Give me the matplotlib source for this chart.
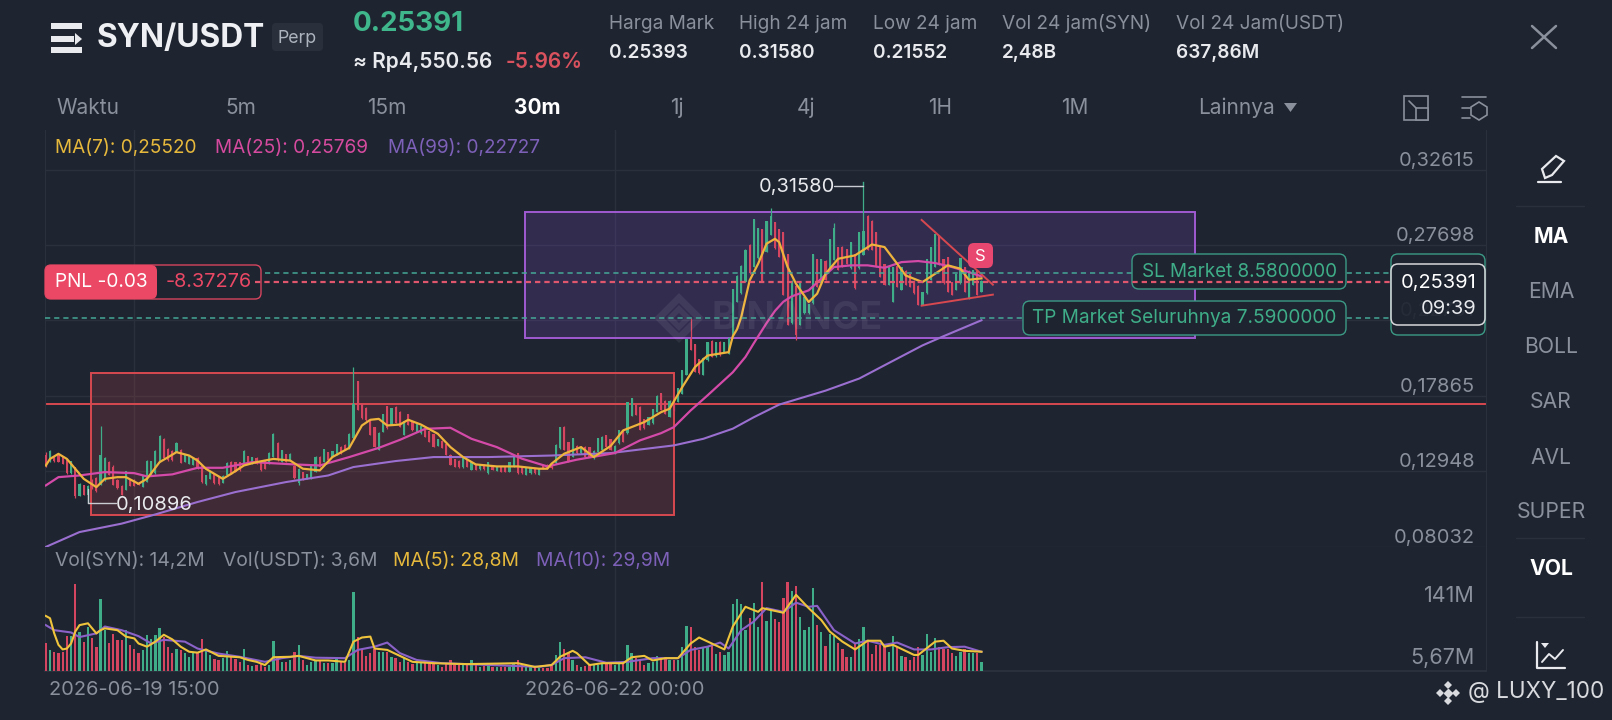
import matplotlib
matplotlib.use("Agg")
import matplotlib.pyplot as plt
from matplotlib.patches import FancyBboxPatch, Rectangle, Polygon

plt.rcParams['font.family'] = ['Inter', 'DejaVu Sans']

# ---------- candles (30 min) ----------
opens = [.1400,.1360,.1395,.1405,.1395,.1365,.1285,.1320,.1130,.1205,
 .1140,.1240,.1250,.1205,.1240,.1355,.1325,.1240,.1200,.1175,
 .1240,.1240,.1220,.1195,.1225,.1270,.1280,.1360,.1505,.1440,
 .1425,.1420,.1435,.1355,.1345,.1335,.1382,.1330,.1210,.1247,
 .1275,.1255,.1218,.1268,.1356,.1352,.1352,.1345,.1395,.1345,
 .1384,.1352,.1362,.1345,.1390,.1480,.1356,.1405,.1366,.1330,
 .1215,.1287,.1248,.1248,.1289,.1388,.1356,.1417,.1388,.1400,
 .1454,.1467,.1443,.1510,.1880,.1732,.1710,.1628,.1580,.1432,
 .1551,.1720,.1595,.1714,.1684,.1530,.1666,.1613,.1551,.1541,
 .1569,.1558,.1537,.1458,.1493,.1472,.1402,.1374,.1363,.1319,
 .1374,.1302,.1341,.1306,.1337,.1280,.1330,.1295,.1324,.1324,
 .1291,.1324,.1411,.1320,.1269,.1280,.1315,.1269,.1333,.1338,
 .1342,.1346,.1443,.1585,.1483,.1389,.1461,.1411,.1455,.1450,
 .1378,.1422,.1433,.1530,.1504,.1411,.1476,.1554,.1541,.1652,
 .1728,.1715,.1635,.1595,.1606,.1682,.1802,.1754,.1649,.1750,
 .1747,.1801,.1921,.2157,.2123,.2025,.1921,.2018,.2145,.2044,
 .2140,.2073,.2062,.2172,.2400,.2454,.2530,.2771,.2628,.2682,
 .2873,.2725,.2834,.2917,.2873,.2852,.2711,.2259,.2504,.2248,
 .2324,.2324,.2389,.2678,.2519,.2667,.2606,.2671,.2754,.2758,
 .2743,.2617,.2711,.2617,.2704,.2960,.2928,.2852,.2765,.2645,
 .2508,.2400,.2635,.2476,.2602,.2580,.2537,.2504,.2378,.2454,
 .2541,.2628,.2830,.2678,.2689,.2526,.2476,.2519,.2624,.2422,
 .2508,.2602,.2465]
closes = [.1330,.1425,.1360,.1358,.1345,.1285,.1360,.1135,.1210,.1140,
 .1200,.1185,.1165,.1400,.1380,.1270,.1205,.1185,.1140,.1295,
 .1200,.1200,.1205,.1262,.1360,.1360,.1425,.1525,.1378,.1366,
 .1366,.1480,.1350,.1405,.1395,.1385,.1312,.1222,.1268,.1297,
 .1215,.1210,.1265,.1350,.1280,.1290,.1300,.1425,.1355,.1385,
 .1345,.1300,.1312,.1415,.1535,.1366,.1430,.1355,.1410,.1248,
 .1310,.1238,.1276,.1335,.1388,.1324,.1438,.1371,.1424,.1470,
 .1410,.1430,.1540,.1730,.1695,.1640,.1627,.1530,.1455,.1545,
 .1665,.1575,.1705,.1610,.1585,.1622,.1595,.1562,.1602,.1591,
 .1519,.1486,.1454,.1504,.1449,.1400,.1334,.1324,.1319,.1385,
 .1324,.1352,.1302,.1337,.1306,.1352,.1302,.1324,.1291,.1291,
 .1352,.1385,.1280,.1280,.1320,.1315,.1280,.1315,.1313,.1313,
 .1313,.1468,.1580,.1433,.1357,.1511,.1411,.1450,.1389,.1389,
 .1429,.1511,.1520,.1454,.1433,.1461,.1563,.1487,.1743,.1769,
 .1660,.1563,.1574,.1645,.1700,.1787,.1697,.1667,.1754,.1690,
 .1836,.1954,.2155,.2088,.1942,.1932,.2036,.2134,.2040,.2134,
 .2051,.2134,.2166,.2483,.2569,.2635,.2737,.2584,.2938,.2880,
 .2530,.2923,.2960,.2747,.2693,.2443,.2248,.2537,.2180,.2526,
 .2428,.2385,.2711,.2498,.2678,.2541,.2808,.2880,.2606,.2628,
 .2649,.2786,.2487,.2852,.2860,.2736,.2736,.2628,.2563,.2508,
 .2635,.2624,.2498,.2624,.2508,.2498,.2454,.2378,.2461,.2678,
 .2754,.2841,.2639,.2519,.2465,.2443,.2580,.2685,.2465,.2602,
 .2606,.2443,.2537]
highs = [.1419,.1430,.1397,.1408,.1397,.1368,.1364,.1321,.1216,.1208,
 .1202,.1245,.1256,.1592,.1386,.1360,.1332,.1245,.1202,.1299,
 .1245,.1245,.1223,.1267,.1368,.1364,.1434,.1534,.1512,.1445,
 .1430,.1484,.1440,.1408,.1397,.1386,.1386,.1332,.1272,.1299,
 .1278,.1256,.1267,.1354,.1360,.1354,.1354,.1430,.1397,.1386,
 .1386,.1354,.1364,.1419,.1542,.1484,.1434,.1408,.1412,.1332,
 .1317,.1289,.1278,.1339,.1391,.1391,.1441,.1419,.1426,.1474,
 .1456,.1469,.1543,.1973,.1886,.1734,.1712,.1630,.1582,.1549,
 .1669,.1723,.1708,.1717,.1686,.1625,.1669,.1615,.1604,.1593,
 .1571,.1560,.1539,.1506,.1495,.1474,.1404,.1376,.1365,.1387,
 .1376,.1354,.1343,.1339,.1339,.1354,.1332,.1326,.1326,.1326,
 .1354,.1387,.1413,.1322,.1322,.1317,.1317,.1317,.1335,.1340,
 .1344,.1470,.1582,.1587,.1485,.1513,.1463,.1452,.1457,.1452,
 .1431,.1513,.1522,.1532,.1506,.1463,.1565,.1556,.1745,.1771,
 .1730,.1717,.1637,.1647,.1702,.1789,.1804,.1756,.1756,.1752,
 .1838,.1956,.2157,.2294,.2125,.2027,.2038,.2136,.2147,.2136,
 .2142,.2136,.2168,.2485,.2571,.2637,.2741,.2773,.2940,.2882,
 .2875,.2925,.3012,.2919,.2875,.2854,.2713,.2539,.2506,.2528,
 .2430,.2387,.2713,.2680,.2680,.2669,.2810,.2912,.2756,.2760,
 .2745,.2788,.2713,.2854,.3157,.2962,.2930,.2854,.2767,.2647,
 .2637,.2626,.2637,.2626,.2604,.2582,.2539,.2506,.2463,.2680,
 .2756,.2843,.2832,.2680,.2691,.2528,.2582,.2687,.2626,.2604,
 .2608,.2604,.2539]
lows = [.1321,.1354,.1354,.1354,.1343,.1278,.1278,.1122,.1130,.1137,
 .1087,.1180,.1158,.1202,.1234,.1267,.1202,.1180,.1137,.1169,
 .1196,.1196,.1202,.1191,.1223,.1267,.1278,.1354,.1375,.1364,
 .1364,.1419,.1347,.1354,.1343,.1332,.1310,.1217,.1208,.1245,
 .1213,.1208,.1217,.1267,.1278,.1289,.1299,.1343,.1354,.1343,
 .1343,.1299,.1310,.1343,.1386,.1364,.1354,.1354,.1364,.1246,
 .1202,.1235,.1246,.1246,.1289,.1322,.1354,.1369,.1387,.1398,
 .1408,.1430,.1441,.1506,.1691,.1636,.1625,.1528,.1452,.1430,
 .1549,.1571,.1593,.1608,.1582,.1528,.1593,.1560,.1549,.1539,
 .1517,.1484,.1452,.1456,.1447,.1398,.1332,.1322,.1317,.1317,
 .1322,.1300,.1300,.1304,.1304,.1278,.1300,.1293,.1289,.1289,
 .1289,.1322,.1278,.1278,.1267,.1278,.1278,.1267,.1311,.1311,
 .1311,.1344,.1441,.1431,.1355,.1387,.1409,.1409,.1387,.1387,
 .1376,.1420,.1431,.1452,.1431,.1409,.1474,.1485,.1539,.1652,
 .1658,.1561,.1572,.1593,.1604,.1680,.1695,.1665,.1647,.1688,
 .1745,.1799,.1919,.2086,.1940,.1930,.1919,.2016,.2038,.2042,
 .2049,.2071,.2060,.2170,.2398,.2452,.2528,.2582,.2626,.2680,
 .2528,.2723,.2832,.2745,.2691,.2441,.2246,.2257,.2148,.2246,
 .2322,.2322,.2387,.2496,.2517,.2539,.2604,.2669,.2604,.2626,
 .2647,.2615,.2485,.2615,.2702,.2734,.2734,.2626,.2561,.2506,
 .2506,.2398,.2496,.2474,.2506,.2496,.2452,.2376,.2376,.2452,
 .2539,.2626,.2637,.2517,.2463,.2441,.2474,.2517,.2463,.2420,
 .2506,.2441,.2463]
volumes = [62,46,41,39,42,76,76,190,84,64,
 95,73,53,157,89,60,81,68,68,89,
 57,49,39,46,79,69,79,93,75,53,
 40,49,46,39,30,39,40,70,48,35,
 26,23,28,44,30,27,20,49,13,11,
 13,17,9,13,66,28,20,20,24,42,
 57,23,13,20,22,22,18,18,18,30,
 20,18,23,172,75,46,33,40,49,42,
 42,42,30,28,20,28,20,15,17,17,
 20,17,17,13,9,15,23,15,13,15,
 15,23,13,9,11,13,9,8,9,9,
 9,18,23,13,9,8,8,7,7,7,
 11,35,64,48,39,24,13,8,11,13,
 13,13,18,17,17,13,15,17,57,40,
 28,24,13,17,20,33,31,30,23,23,
 24,52,98,95,53,46,53,55,62,37,
 42,34,42,145,156,145,89,115,148,97,
 193,110,133,113,106,160,193,174,185,118,
 89,97,182,101,84,55,80,76,62,49,
 31,30,60,69,95,64,37,57,57,55,
 42,76,53,33,31,24,31,53,35,80,
 42,73,53,47,47,39,33,42,49,40,
 40,40,20]

# ---------- moving averages, read at marked candles ----------
ma7_idx = [0,1,3,5,7,9,12,14,17,19,22,24,27,29,31,34,36,38,42,44,47,50,54,58,61,65,68,72,75,77,79,81,84,86,89,93,96,99,102,107,112,117,
           119,120,123,127,130,134,137,142,146,148,151,154,157,162,163,164,165,166,167,169,171,173,174,176,178,181,183,185,188,192,196,199,202,204,208,211,214,217,219,222]
ma7_val = [.1332,.1375,.1408,.1375,.1310,.1245,.1191,.1245,.1256,.1256,.1213,.1245,.1354,.1386,.1419,.1397,.1364,.1310,.1245,.1278,.1332,.1354,.1375,.1364,.1311,.1300,.1387,.1447,.1593,.1630,.1636,.1593,.1599,.1630,.1599,.1539,.1452,.1387,.1339,.1326,.1326,.1311,
           .1311,.1344,.1409,.1452,.1387,.1459,.1561,.1615,.1680,.1702,.1843,.1973,.2049,.2071,.2175,.2220,.2300,.2420,.2539,.2647,.2778,.2810,.2788,.2626,.2517,.2398,.2452,.2582,.2680,.2702,.2773,.2756,.2647,.2571,.2528,.2582,.2637,.2615,.2543,.2552]
ma25_idx = [0,3,8,14,21,24,30,36,42,49,59,65,72,79,84,90,96,101,107,113,119,126,135,141,146,149,153,157,163,166,168,171,173,175,177,181,184,187,191,195,199,203,207,211,215,219,222]
ma25_val = [.1202,.1256,.1267,.1289,.1282,.1261,.1274,.1317,.1317,.1354,.1339,.1332,.1387,.1447,.1499,.1571,.1578,.1506,.1452,.1376,.1326,.1370,.1413,.1496,.1543,.1582,.1691,.1789,.1940,.2040,.2130,.2260,.2340,.2400,.2435,.2474,.2550,.2626,.2637,.2637,.2621,.2658,.2665,.2652,.2626,.2593,.2565]
ma99_idx = [0,8,18,26,36,45,57,67,73,83,92,105,120,134,149,156,163,168,174,185,193,200,208,213,222]
ma99_val = [.0801,.0898,.0953,.1013,.1094,.1159,.1224,.1267,.1322,.1361,.1387,.1387,.1397,.1413,.1463,.1506,.1572,.1647,.1729,.1820,.1899,.2000,.2115,.2175,.2279]
vol_ma5_idx = [0,1,2,3,4,5,6,7,8,10,12,13,14,17,19,21,22,24,26,28,30,32,34,36,38,41,46,48,50,52,54,58,60,64,67,71,72,73,75,77,78,81,84,87,92,100,112,116,120,122,125,126,129,132,135,137,139,142,144,147,150,153,155,158,161,163,166,169,170,175,178,181,184,186,189,192,195,198,199,201,206,207,211,213,215,218,222]
vol_ma5_val = [120,115,82,57,47,49,60,86,100,104,82,89,93,89,75,71,60,53,64,79,69,53,42,40,47,33,30,24,20,13,30,31,33,23,23,20,42,64,73,75,49,46,33,20,17,15,17,9,13,31,44,39,13,17,17,17,30,33,23,28,28,60,73,60,47,97,140,129,137,127,166,137,111,86,64,47,66,66,53,57,35,35,64,66,49,44,42]
vol_ma10_idx = [0,2,6,8,12,14,18,22,25,28,33,36,41,46,52,56,60,64,71,74,78,81,84,88,94,117,120,123,128,133,138,144,150,153,157,160,162,165,168,171,175,178,181,183,187,192,195,199,202,206,210,214,218,222]
vol_ma10_val = [100,89,84,74,82,97,89,76,60,68,64,49,38,31,20,28,33,29,28,46,53,62,39,24,17,9,13,28,30,18,20,28,28,46,53,62,49,89,108,137,129,149,140,142,89,60,66,57,62,47,47,52,53,42]

price_ticks = [.32615,.27698,.22781,.17865,.12948,.08032]
price_tick_labels = ['0,32615','0,27698','0,22781','0,17865','0,12948','0,08032']
vol_ticks = [5.67,141]
vol_tick_labels = ['5,67M','141M']
time_ticks = [21,135]
time_tick_labels = ['2026-06-19 15:00','2026-06-22 00:00']

red_box = (10.7,149.0,.1012,.1938)
purple_box = (113.8,272.6,.2162,.2987)
support_level = .1733
sl_price = .2588
tp_price = .2294
last_price = .2530
trend_down = ([207.8,224.7],[.2933,.2511])
trend_up = ([207.8,224.7],[.2374,.2446])
high_idx, high_val = 194, .3157

BG = '#1e2430'
GRID = '#2b313c'
GREEN = '#3fae88'
RED = '#d6455f'
TXT_GREY = '#8a919d'
YELLOW = '#e6b93c'
PINK = '#d64b9f'
PURPLE = '#7d60b8'
BOXRED = '#d8484f'
BOXPUR = '#a05ad2'

W, H = 1612, 720
fig = plt.figure(figsize=(W/100, H/100), dpi=100, facecolor=BG)

def rect(x0, y0, x1, y1):
    return [x0/W, 1-y1/H, (x1-x0)/W, (y1-y0)/H]

xlim = (-0.19, 341.7)
PX = 0.000652
ax = fig.add_axes(rect(45, 130, 1486, 546.6), facecolor=BG)
ax.set_xlim(*xlim)
ax.set_ylim(.08032, .08032 + (546.6-130)*PX)
vax = fig.add_axes(rect(45, 546.6, 1486, 671), facecolor=BG)
vax.set_xlim(*xlim)
vax.set_ylim(0, (671-546.6)*2.18)

assert len(opens) == len(closes) == len(highs) == len(lows) == len(volumes) == 223
xs = list(range(len(opens)))
cols = [GREEN if c >= o else RED for o, c in zip(opens, closes)]

for a in (ax, vax):
    for s in ('top', 'bottom'):
        a.spines[s].set_visible(False)
    a.spines['left'].set_color(GRID)
    a.spines['right'].set_color(GRID)
    a.set_axisbelow(True)

ax.set_yticks(price_ticks)
ax.set_yticklabels(price_tick_labels, ha='right', va='bottom', color=TXT_GREY, fontsize=14.4)
ax.yaxis.tick_right()
ax.tick_params(axis='y', length=0, pad=-8)
ax.set_xticks(time_ticks)
ax.tick_params(axis='x', length=0, labelbottom=False)
ax.grid(True, color=GRID, lw=1)

vax.set_yticks(vol_ticks)
vax.set_yticklabels(vol_tick_labels, ha='right', va='bottom', color=TXT_GREY, fontsize=15.5)
vax.yaxis.tick_right()
vax.tick_params(axis='y', length=0, pad=-8)
vax.set_xticks(time_ticks)
vax.set_xticklabels(time_tick_labels, color=TXT_GREY, fontsize=14.4)
vax.tick_params(axis='x', length=0, pad=7)
vax.grid(True, axis='x', color=GRID, lw=1)
vax.axhline(0, color=GRID, lw=1.5, clip_on=False)

# drawn boxes
ax.add_patch(Rectangle((red_box[0], red_box[2]), red_box[1]-red_box[0], red_box[3]-red_box[2],
                       facecolor=BOXRED, alpha=.18, edgecolor='none', zorder=1))
ax.add_patch(Rectangle((red_box[0], red_box[2]), red_box[1]-red_box[0], red_box[3]-red_box[2],
                       facecolor='none', edgecolor=BOXRED, lw=1.4, zorder=2.5))
ax.add_patch(Rectangle((purple_box[0], purple_box[2]), purple_box[1]-purple_box[0], purple_box[3]-purple_box[2],
                       facecolor='#7a4fc0', alpha=.22, edgecolor='none', zorder=1))
ax.add_patch(Rectangle((purple_box[0], purple_box[2]), purple_box[1]-purple_box[0], purple_box[3]-purple_box[2],
                       facecolor='none', edgecolor=BOXPUR, lw=1.4, zorder=2.5))
ax.axhline(support_level, color=BOXRED, lw=1.4, zorder=2.5)

# candles
ax.vlines(xs, lows, highs, colors=cols, lw=.9, zorder=3)
ax.bar(xs, [abs(c-o) for o, c in zip(opens, closes)], bottom=[min(o, c) for o, c in zip(opens, closes)],
       width=.52, color=cols, linewidth=0, zorder=3)

ax.plot(ma99_idx, ma99_val, color='#9a6fd0', lw=1.5, zorder=4, solid_joinstyle='round')
ax.plot(ma25_idx, ma25_val, color='#d44aa8', lw=1.6, zorder=4, solid_joinstyle='round')
ax.plot(ma7_idx, ma7_val, color='#eeb33c', lw=1.6, zorder=5, solid_joinstyle='round')
ax.plot(*trend_down, color=BOXRED, lw=1.4, zorder=5)
ax.plot(*trend_up, color=BOXRED, lw=1.4, zorder=5)

# volume
vax.bar(xs, volumes, width=.55, color=cols, linewidth=0, zorder=3)
vax.plot(vol_ma10_idx, vol_ma10_val, color='#8a62c8', lw=1.5, zorder=4)
vax.plot(vol_ma5_idx, vol_ma5_val, color='#efc43c', lw=1.5, zorder=5)

# overlay for the app chrome
ov = fig.add_axes([0, 0, 1, 1], facecolor='none', zorder=10)
ov.set_xlim(0, W); ov.set_ylim(H, 0); ov.axis('off')

def T(x, y, s, c='white', size=13, w='normal', ha='left', z=5, **kw):
    return ov.text(x, y+2.2, s, color=c, fontsize=size, fontweight=w, ha=ha, va='center', zorder=z, **kw)

def rbox(x0, y0, x1, y1, fc, ec='none', lw=1, r=6, z=2):
    p = FancyBboxPatch((x0, y0), x1-x0, y1-y0, boxstyle=f'round,pad=0,rounding_size={r}',
                       facecolor=fc, edgecolor=ec, lw=lw, zorder=z)
    ov.add_patch(p)
    return p

def L(xs_, ys_, c='#8a919d', lw=1.5, z=3, **kw):
    ov.plot(xs_, ys_, color=c, lw=lw, zorder=z, solid_capstyle='round', **kw)

# watermark
ov.text(712, 319, 'BINANCE', color='white', alpha=.07, fontsize=27, fontweight='bold', va='center', zorder=1)
for r_, lw_ in ((20, 5), (9, 4)):
    ov.add_patch(Polygon([(679, 318-r_), (679+r_, 318), (679, 318+r_), (679-r_, 318)], closed=True,
                         facecolor='none', edgecolor='white', alpha=.07, lw=lw_, zorder=1))

# header
for yy, hh in ((23, 6), (36, 6), (47, 6)):
    ov.add_patch(Rectangle((51, yy), 31, hh, facecolor='#e8eaee', edgecolor='none'))
ov.add_patch(Rectangle((74, 32), 10, 14, facecolor=BG, edgecolor='none', zorder=3))
ov.add_patch(Polygon([(75, 33), (82, 39), (75, 45)], closed=True, facecolor='#e8eaee', edgecolor='none', zorder=4))
ov.add_patch(Rectangle((51, 36), 22, 6, facecolor='#e8eaee', edgecolor='none', zorder=4))
T(97, 36, 'SYN/USDT', '#eef0f3', 22.8, 'bold')
rbox(272, 23, 323, 51, '#2a303b', r=4)
T(297.5, 36, 'Perp', '#aeb4be', 12.8, ha='center')
T(353, 22, '0.25391', '#3fb68b', 20, 'bold')
T(353, 60, '\u2248 Rp4,550.56', '#e8eaee', 15, 'semibold')
T(506, 60, '-5.96%', '#d9525e', 15, 'semibold')
heads = [(609, 'Harga Mark', '0.25393'), (739, 'High 24 jam', '0.31580'), (873, 'Low 24 jam', '0.21552'),
         (1002, 'Vol 24 jam(SYN)', '2,48B'), (1176, 'Vol 24 Jam(USDT)', '637,86M')]
for x_, a_, b_ in heads:
    T(x_, 21.5, a_, TXT_GREY, 13.7)
    T(x_, 51, b_, '#e8eaee', 13.7, 'semibold')
L([1532, 1556], [26, 48], '#8a919d', 1.8)
L([1556, 1532], [26, 48], '#8a919d', 1.8)

# period row
T(56, 106, 'Waktu', TXT_GREY, 15)
for cx, s in ((240.6, '5m'), (387, '15m'), (677, '1j'), (806, '4j'), (940, '1H'), (1075, '1M')):
    T(cx, 106, s, TXT_GREY, 15, ha='center')
T(537, 106, '30m', 'white', 15, 'bold', ha='center')
T(1198, 106, 'Lainnya', TXT_GREY, 15)
ov.add_patch(Polygon([(1284, 103), (1297, 103), (1290.5, 112)], closed=True, facecolor=TXT_GREY, edgecolor='none'))
ov.add_patch(Rectangle((1404, 96), 24, 24, facecolor='none', edgecolor=TXT_GREY, lw=1.2))
ov.add_patch(Rectangle((1416, 108), 12, 12, facecolor=BG, edgecolor=TXT_GREY, lw=1.2))
L([1409, 1416], [101, 108], TXT_GREY, 1.2)
L([1462, 1486], [97, 97], TXT_GREY, 1.2)
L([1462, 1470], [108, 108], TXT_GREY, 1.2)
L([1462, 1470], [118, 118], TXT_GREY, 1.2)
ov.add_patch(Polygon([(1479, 102), (1487, 107), (1487, 115), (1479, 120), (1471, 115), (1471, 107)], closed=True,
                     facecolor='none', edgecolor=TXT_GREY, lw=1.2))

# legends
T(55, 146, 'MA(7): 0,25520', YELLOW, 13.7)
T(215, 146, 'MA(25): 0,25769', PINK, 13.7)
T(388, 146, 'MA(99): 0,22727', PURPLE, 13.7)
T(55, 559, 'Vol(SYN): 14,2M', TXT_GREY, 13.9)
T(223, 559, 'Vol(USDT): 3,6M', TXT_GREY, 13.9)
T(393, 559, 'MA(5): 28,8M', YELLOW, 13.9)
T(536, 559, 'MA(10): 29,9M', PURPLE, 13.9)

# high and low callouts
dtr = ax.transData
ov.plot([high_idx, high_idx], [high_val, .3182], color='#3fae88', lw=1, transform=dtr, zorder=3)
L([834, 863], [186, 186], '#c9ccd2', 1)
T(759, 185, '0,31580', '#e8eaee', 14.4)
L([88, 88], [489, 503], '#c9ccd2', 1)
L([88, 116], [503, 503], '#c9ccd2', 1)
T(116, 503, '0,10896', '#e8eaee', 14.4)

# position lines
ytr = ax.get_yaxis_transform()
fx = lambda p: (p-45)/1441
for p_ in (sl_price, tp_price):
    ov.plot([fx(45), fx(1391)], [p_, p_], color='#45a896', lw=1.1, ls=(0, (3.4, 2.6)), transform=ytr, zorder=1.5)

rbox(45, 265, 261, 299, BG, ec='#d6455f', lw=1, r=6, z=4)
rbox(45, 265, 157, 299, '#ea4865', r=6, z=4)
T(101, 280, 'PNL -0.03', 'white', 13.7, ha='center')
T(209, 280, '-8.37276', '#ea4865', 14.3, ha='center')

rbox(1132, 254, 1346, 289, BG, ec='#3c9a85', lw=1, r=7, z=4)
rbox(1023, 301, 1346, 335, BG, ec='#3c9a85', lw=1, r=7, z=4)
T(1239, 270, 'SL Market 8.5800000', '#3fae88', 13.6, ha='center')
T(1184.5, 316, 'TP Market Seluruhnya 7.5900000', '#3fae88', 13.7, ha='center')

ov.plot([fx(255), fx(1391)], [last_price, last_price], color='#e0566d', lw=1.6, ls=(0, (2.4, 1.8)), transform=ytr, zorder=6)

rbox(1391, 254, 1485, 335, (30/255, 36/255, 48/255, .82), ec='#3c9a85', lw=1, r=7, z=4)
rbox(1391, 264, 1485, 325, (30/255, 36/255, 48/255, .55), ec='#d8d8dc', lw=1.1, r=7, z=5)
T(1476, 281, '0,25391', 'white', 14.4, ha='right', z=6)
T(1476, 307, '09:39', '#e8eaee', 14.4, ha='right', z=6)

rbox(968, 243, 993, 268, '#e8476f', r=6, z=6)
T(980.5, 254, 'S', 'white', 12, ha='center', z=7)

# side menu
for y_, s, on in ((235, 'MA', True), (290, 'EMA', False), (345, 'BOLL', False), (400, 'SAR', False),
                  (455.6, 'AVL', False), (510, 'SUPER', False), (566.6, 'VOL', True)):
    T(1551, y_, s, 'white' if on else TXT_GREY, 15.2, 'bold' if on else 'normal', ha='center')
for y_ in (206, 537.6, 616.6):
    L([1516, 1584], [y_, y_], GRID, 1)
ov.add_patch(Polygon([(1545, 178), (1542, 169), (1556, 156), (1564, 161), (1552, 175)], closed=True,
                     facecolor='none', edgecolor='#e8eaee', lw=1.6, zorder=3))
L([1538, 1561], [182, 182], '#e8eaee', 1.6)
L([1537, 1537, 1565], [642, 668, 668], '#e8eaee', 1.6)
L([1542, 1549, 1555, 1563], [662, 654, 659, 650], '#e8eaee', 1.4)
ov.add_patch(Polygon([(1541, 643), (1549, 643), (1545, 648)], closed=True, facecolor='#e8eaee', edgecolor='none'))

# credit
wm = '#d8dade'
for dx, dy in ((0, -8), (8, 0), (0, 8), (-8, 0)):
    ov.plot(1448+dx, 693+dy, marker='D', ms=4.5, color=wm, mew=0, zorder=3)
ov.plot(1448, 693, marker='D', ms=4, mfc=wm, mec=wm, zorder=3)
T(1468, 690, '@ LUXY_100', wm, 16.2)

fig.savefig('out.png', dpi=100, facecolor=BG)
